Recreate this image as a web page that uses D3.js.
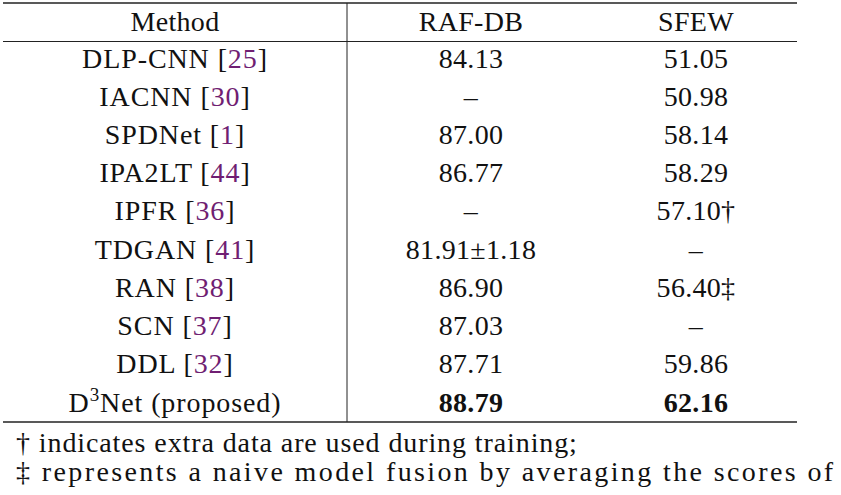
<!DOCTYPE html>
<html>
<head>
<meta charset="utf-8">
<script src="https://cdn.jsdelivr.net/npm/d3@7"></script>
<style>
  body { margin: 0; background: #fff; }
</style>
</head>
<body>
<script>
// table content
const headers = ["Method", "RAF-DB", "SFEW"];
const methods = ["DLP-CNN", "IACNN", "SPDNet", "IPA2LT", "IPFR", "TDGAN", "RAN", "SCN", "DDL", "D3Net"];
const refs = ["25", "30", "1", "44", "36", "41", "38", "37", "32", null];
const rafdb = ["84.13", "–", "87.00", "86.77", "–", "81.91±1.18", "86.90", "87.03", "87.71", "88.79"];
const sfew = ["51.05", "50.98", "58.14", "58.29", "57.10†", "–", "56.40‡", "–", "59.86", "62.16"];
const notes = [
  "† indicates extra data are used during training;",
  "‡ represents a naive model fusion by averaging the scores of"
];

const width = 841, height = 495;
const fs = 28;
const cite = "#701e72";

const svg = d3.select("body").append("svg")
    .attr("width", width)
    .attr("height", height)
    .attr("font-family", "'Liberation Serif', 'Times New Roman', Times, serif")
    .style("letter-spacing", "0.3px")
    .attr("fill", "#111");

// column edges: method | raf-db | sfew
const edges = [3, 347, 595, 797];
const colX = d3.scaleOrdinal()
    .domain(headers)
    .range(headers.map((h, i) => (edges[i] + edges[i + 1]) / 2));

const rowY = d3.scaleLinear()
    .domain([0, methods.length - 1])
    .range([67.5, 411.5]);

// rules
svg.append("line").attr("x1", edges[0]).attr("x2", edges[3])
    .attr("y1", 3).attr("y2", 3).attr("stroke", "#222").attr("stroke-width", 1.6);
svg.append("line").attr("x1", edges[0]).attr("x2", edges[3])
    .attr("y1", 41.5).attr("y2", 41.5).attr("stroke", "#222").attr("stroke-width", 1);
svg.append("line").attr("x1", edges[0]).attr("x2", edges[3])
    .attr("y1", 422).attr("y2", 422).attr("stroke", "#222").attr("stroke-width", 1.6);
svg.append("line").attr("x1", edges[1]).attr("x2", edges[1])
    .attr("y1", 3).attr("y2", 422).attr("stroke", "#222").attr("stroke-width", 1);

// header
svg.append("g").selectAll("text")
    .data(headers)
    .enter().append("text")
    .attr("x", d => colX(d))
    .attr("y", 30.5)
    .attr("text-anchor", "middle")
    .attr("font-size", fs)
    .text(d => d);

// method names with citation
const names = svg.append("g").selectAll("text")
    .data(methods)
    .enter().append("text")
    .attr("x", colX("Method"))
    .attr("y", (d, i) => rowY(i))
    .attr("text-anchor", "middle")
    .attr("font-size", fs)
    .style("letter-spacing", "0.9px");

names.each(function(d, i) {
    const t = d3.select(this);
    if (refs[i] == null) {
        t.append("tspan").text("D");
        t.append("tspan").attr("font-size", fs * 0.68).attr("dy", -11).text("3");
        t.append("tspan").attr("dy", 11).text("Net (proposed)");
    } else {
        t.append("tspan").text(d + " [");
        t.append("tspan").attr("fill", cite).text(refs[i]);
        t.append("tspan").text("]");
    }
});

// value columns
const last = methods.length - 1;
[["RAF-DB", rafdb], ["SFEW", sfew]].forEach(([key, vals]) => {
    svg.append("g").selectAll("text")
        .data(vals)
        .enter().append("text")
        .attr("x", colX(key))
        .attr("y", (d, i) => rowY(i))
        .attr("text-anchor", "middle")
        .attr("font-size", fs)
        .attr("font-weight", (d, i) => i === last ? "bold" : null)
        .text(d => d);
});

// footnotes, second line is justified to the full width
svg.append("g").selectAll("text")
    .data(notes)
    .enter().append("text")
    .attr("x", 16)
    .attr("y", (d, i) => 452 + i * 29)
    .attr("font-size", fs)
    .style("letter-spacing", "0.9px")
    .attr("textLength", (d, i) => i === 1 ? 818 : null)
    .attr("lengthAdjust", "spacing")
    .text(d => d);
</script>
</body>
</html>
